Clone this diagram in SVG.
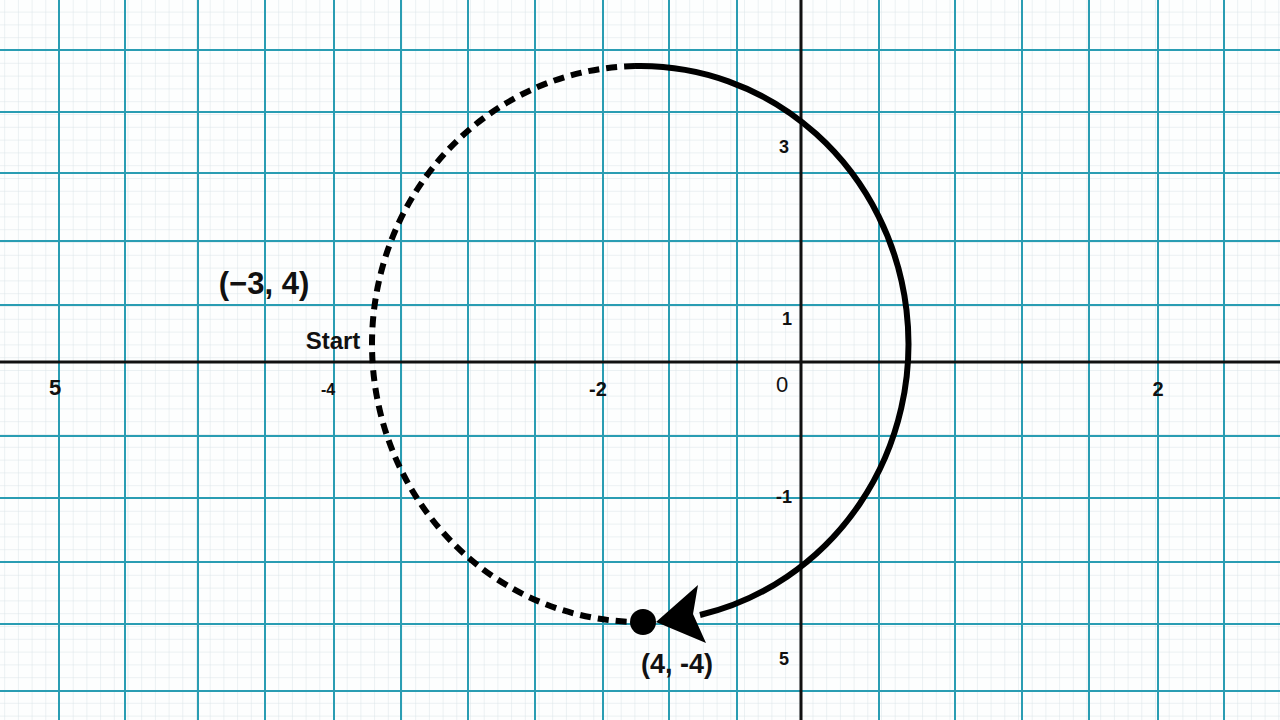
<svg xmlns="http://www.w3.org/2000/svg" width="1280" height="720" viewBox="0 0 1280 720">
<style>
.major{stroke:#2a9db3;stroke-width:2;fill:none}
.axis{stroke:#111;stroke-width:3;fill:none}
.curve{stroke:#000;stroke-width:6;fill:none;stroke-linecap:butt}
.dash{stroke-dasharray:11 7}
.lbl{font-family:"Liberation Sans",Arial,sans-serif;fill:#111}
</style>
<defs>
<pattern id="minor" x="59" y="50" width="13.7" height="12.8" patternUnits="userSpaceOnUse">
<path d="M0 0V12.8M0 0H13.7" stroke="#d9e4e8" stroke-width="1" fill="none"/>
</pattern>
</defs>
<g id="paper">
<rect width="1280" height="720" fill="#fdfefe"/>
<rect width="1280" height="720" fill="url(#minor)"/>
<path class="major" d="M59 0V720M125 0V720M198 0V720M265 0V720M334 0V720M401 0V720M468 0V720M535 0V720M603 0V720M669 0V720M737 0V720M879 0V720M955 0V720M1022 0V720M1089 0V720M1158 0V720M1224 0V720"/>
<path class="major" d="M0 50H1280M0 112H1280M0 173H1280M0 241H1280M0 305H1280M0 436H1280M0 498H1280M0 562H1280M0 624H1280M0 691H1280"/>
</g>
<g id="axes">
<line class="axis" x1="0" y1="362" x2="1280" y2="362"/>
<line class="axis" x1="801" y1="0" x2="801" y2="720"/>
</g>
<g id="axis-labels" font-weight="bold">
<text class="lbl" x="55" y="395" font-size="22" text-anchor="middle">5</text>
<text class="lbl" x="328" y="395" font-size="16" text-anchor="middle">-4</text>
<text class="lbl" x="598" y="396" font-size="20" text-anchor="middle">-2</text>
<text class="lbl" x="782" y="392" font-size="22" font-weight="normal" text-anchor="middle">0</text>
<text class="lbl" x="1158" y="396" font-size="20" text-anchor="middle">2</text>
<text class="lbl" x="784" y="153" font-size="18" text-anchor="middle">3</text>
<text class="lbl" x="787" y="325" font-size="18" text-anchor="middle">1</text>
<text class="lbl" x="784" y="503" font-size="18" text-anchor="middle">-1</text>
<text class="lbl" x="784" y="665" font-size="18" text-anchor="middle">5</text>
</g>
<g id="connectors">
<path id="dashed-arc" class="curve dash" d="M635 66A268 278 0 0 0 372 344A268 278 0 0 0 642 622"/>
<path id="solid-arc" class="curve" d="M635 66A268 278 0 0 1 700 615"/>
<path id="arrowhead" d="M656 622L698 585L693 614L706 643Z" fill="#000"/>
</g>
<g id="node-start">
<text class="lbl" x="264" y="294" font-size="31" font-weight="bold" text-anchor="middle">(−3, 4)</text>
<text class="lbl" x="333" y="349" font-size="24" font-weight="bold" text-anchor="middle">Start</text>
</g>
<g id="node-end">
<circle cx="643" cy="622" r="13" fill="#000"/>
<text class="lbl" x="677" y="673" font-size="27" font-weight="bold" text-anchor="middle">(4, -4)</text>
</g>
</svg>
